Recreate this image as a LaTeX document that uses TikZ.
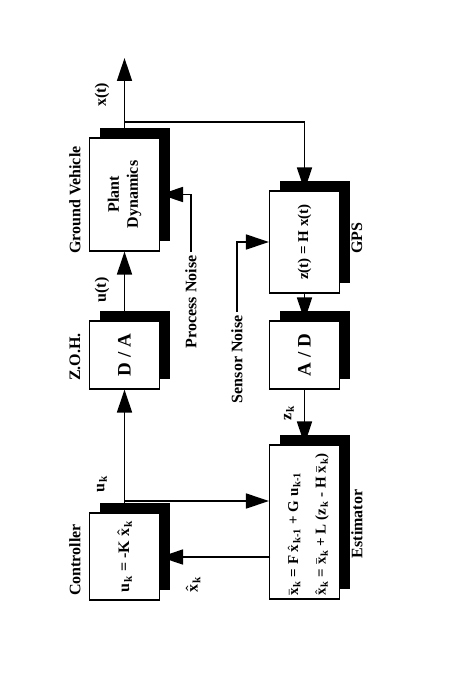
\documentclass[tikz,border=0pt]{standalone}
\usepackage{amsmath}
\usepackage{fontspec}
\setmainfont{Liberation Serif}
\usetikzlibrary{arrows.meta}

\newcommand{\hx}{\hat{\text{x}}}
\newcommand{\bx}{\bar{\text{x}}}
\newcommand{\sub}[1]{\kern1pt$_{\text{#1}}$}

\begin{document}
\boldmath
\begin{tikzpicture}[x=1pt,y=-1pt,
  blk/.style={draw,line width=1.1pt,fill=white,inner sep=0pt,minimum width=70pt,
    font=\fontsize{15}{18}\selectfont\bfseries},
  shd/.style={fill=black,inner sep=0pt,minimum width=70pt},
  lbl/.style={rotate=90,font=\fontsize{16}{19}\selectfont\bfseries},
  eqn/.style={rotate=90,anchor=west,inner sep=0pt,font=\fontsize{15}{18}\selectfont\bfseries},
  wire/.style={line width=1.5pt},
  arr/.style={line width=1.5pt,-{Triangle[length=23pt,width=15pt]}}]
\useasboundingbox (0,0) rectangle (474,682);

% shadows
\node[shd,minimum height=113pt] (plantS) at (134.5,184.5) {};
\node[shd,minimum height=68pt] (daS) at (134.5,345) {};
\node[shd,minimum height=87pt] (ctrlS) at (134.5,546.5) {};
\node[shd,minimum height=102pt] (gpsS) at (314.5,232) {};
\node[shd,minimum height=68pt] (adS) at (314.5,345) {};
\node[shd,minimum height=154pt] (estS) at (314.5,512) {};

% blocks
\node[blk,minimum height=113pt] (plant) at (124.5,194.5)
  {\fontsize{16}{19}\selectfont\rotatebox{90}{\begin{tabular}{@{}c@{}}Plant\\Dynamics\end{tabular}}};
\node[blk,minimum height=68pt] (da) at (124.5,355)
  {\fontsize{19}{22}\selectfont\rotatebox{90}{D / A}};
\node[blk,minimum height=87pt] (ctrl) at (124.5,556.5)
  {\fontsize{16}{19}\selectfont\rotatebox{90}{u\sub{k} = -K $\hx$\sub{k}}};
\node[blk,minimum height=102pt] (gps) at (304.5,242)
  {\rotatebox{90}{z(t) = H x(t)}};
\node[blk,minimum height=68pt] (ad) at (304.5,355)
  {\fontsize{19}{22}\selectfont\rotatebox{90}{A / D}};
\node[blk,minimum height=154pt] (est) at (304.5,522) {};
\node[eqn] (eq1) at (294,596) {$\bx$\sub{k} = F $\hx$\sub{k-1} + G u\sub{k-1}};
\node[eqn] (eq2) at (322,596) {$\hx$\sub{k} = $\bx$\sub{k} + L (z\sub{k} - H $\bx$\sub{k})};

% block titles
\node[lbl] (gvl) at (75,200) {Ground Vehicle};
\node[lbl] (zohl) at (75,357) {Z.O.H.};
\node[lbl] (ctll) at (75,560) {Controller};
\node[lbl] (gpsl) at (357,238) {GPS};
\node[lbl] (estl) at (357,524) {Estimator};

% signals
\coordinate (xtop) at (124.5,58);
\coordinate (xs) at (124.5,122);
\coordinate (us) at (124.5,501);
\coordinate (fb) at (270,557);
\coordinate (pn) at (191,252);
\coordinate (sn) at (237,312);

\draw[arr] (plant.north |- plantS.north) -- (xtop);
\draw[arr] (xs) -| (gps.north);
\draw[arr] (da.north |- daS.north) -- (plant.south);
\draw[arr] (ctrl.north |- ctrlS.north) -- (da.south);
\draw[arr] (us) -- (us -| est.west);
\draw[arr] (fb) -- (fb -| ctrl.east);
\draw[arr] (gps.south) -- (ad.north);
\draw[arr] (ad.south) -- (est.north);
\draw[arr] (pn) |- (plant.east);
\draw[arr] (sn) |- (gps.west);

% signal labels
\node[lbl] (xtl) at (102,95) {x(t)};
\node[lbl] (utl) at (102,290) {u(t)};
\node[lbl] (ukl) at (102,484) {u\sub{k}};
\node[lbl] (xkl) at (193,585) {$\hx$\sub{k}};
\node[lbl] (zkl) at (289,413) {z\sub{k}};
\node[lbl,anchor=east] (pnl) at (pn) {Process Noise};
\node[lbl,anchor=east] (snl) at (sn) {Sensor Noise};
\end{tikzpicture}
\end{document}
